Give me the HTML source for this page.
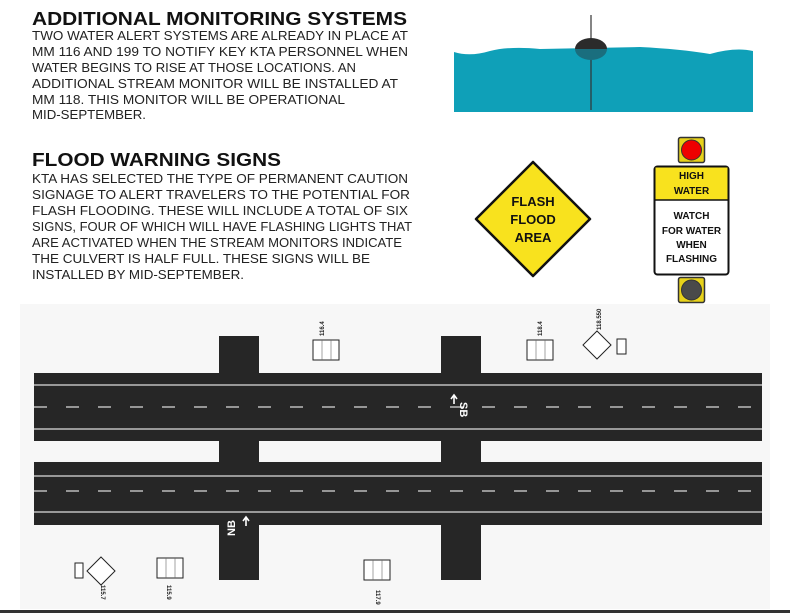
<!DOCTYPE html>
<html><head><meta charset="utf-8"><style>
html,body{margin:0;padding:0;background:#fff;width:790px;height:613px;overflow:hidden}
svg{display:block}
text{font-family:"Liberation Sans",Arial,sans-serif}
</style></head><body>
<svg width="790" height="613" viewBox="0 0 790 613" xmlns="http://www.w3.org/2000/svg">
<rect width="790" height="613" fill="#fff"/>
<g fill="#111">
<text x="32" y="25" font-size="18.5" font-weight="bold" textLength="375" lengthAdjust="spacingAndGlyphs">ADDITIONAL MONITORING SYSTEMS</text>
<g font-size="12.6" fill="#222">
<text x="32" y="40" textLength="376" lengthAdjust="spacingAndGlyphs">TWO WATER ALERT SYSTEMS ARE ALREADY IN PLACE AT</text>
<text x="32" y="56" textLength="376" lengthAdjust="spacingAndGlyphs">MM 116 AND 199 TO NOTIFY KEY KTA PERSONNEL WHEN</text>
<text x="32" y="72" textLength="324" lengthAdjust="spacingAndGlyphs">WATER BEGINS TO RISE AT THOSE LOCATIONS. AN</text>
<text x="32" y="88" textLength="366" lengthAdjust="spacingAndGlyphs">ADDITIONAL STREAM MONITOR WILL BE INSTALLED AT</text>
<text x="32" y="104" textLength="313" lengthAdjust="spacingAndGlyphs">MM 118. THIS MONITOR WILL BE OPERATIONAL</text>
<text x="32" y="119" textLength="114" lengthAdjust="spacingAndGlyphs">MID-SEPTEMBER.</text>
</g>
<text x="32" y="166" font-size="18.5" font-weight="bold" textLength="249" lengthAdjust="spacingAndGlyphs">FLOOD WARNING SIGNS</text>
<g font-size="12.6" fill="#222">
<text x="32" y="183" textLength="376" lengthAdjust="spacingAndGlyphs">KTA HAS SELECTED THE TYPE OF PERMANENT CAUTION</text>
<text x="32" y="199" textLength="378" lengthAdjust="spacingAndGlyphs">SIGNAGE TO ALERT TRAVELERS TO THE POTENTIAL FOR</text>
<text x="32" y="215" textLength="376" lengthAdjust="spacingAndGlyphs">FLASH FLOODING. THESE WILL INCLUDE A TOTAL OF SIX</text>
<text x="32" y="231" textLength="380" lengthAdjust="spacingAndGlyphs">SIGNS, FOUR OF WHICH WILL HAVE FLASHING LIGHTS THAT</text>
<text x="32" y="247" textLength="370" lengthAdjust="spacingAndGlyphs">ARE ACTIVATED WHEN THE STREAM MONITORS INDICATE</text>
<text x="32" y="263" textLength="338" lengthAdjust="spacingAndGlyphs">THE CULVERT IS HALF FULL. THESE SIGNS WILL BE</text>
<text x="32" y="279" textLength="212" lengthAdjust="spacingAndGlyphs">INSTALLED BY MID-SEPTEMBER.</text>
</g>
</g>
<!-- water -->
<path d="M454 52 Q470 57 490 51 Q510 46 540 49 L640 47 Q680 49 710 54 Q735 47 753 51 L753 112 L454 112 Z" fill="#0fa0b8"/>
<line x1="591" y1="15" x2="591" y2="110" stroke="#333" stroke-width="1.2"/>
<path d="M575 49 A16 11 0 0 1 607 49 Z" fill="#2b2b2b"/>
<path d="M575 49 A16 11 0 0 0 607 49 Z" fill="#1a6e7e"/>
<!-- diamond -->
<polygon points="533,162 590,219 533,276 476,219" fill="#f8e21e" stroke="#111" stroke-width="2.5" stroke-linejoin="round"/>
<g font-size="13" font-weight="bold" text-anchor="middle" fill="#111">
<text x="533" y="206">FLASH</text><text x="533" y="224">FLOOD</text><text x="533" y="242">AREA</text>
</g>
<!-- light sign -->
<rect x="678.5" y="137.5" width="26" height="25" rx="2" fill="#e8d21a" stroke="#333" stroke-width="1.5"/>
<circle cx="691.5" cy="150" r="10" fill="#e00" stroke="#333" stroke-width="1"/>
<rect x="654.5" y="166.5" width="74" height="108" rx="3" fill="#fff" stroke="#111" stroke-width="2"/>
<rect x="655.5" y="167.5" width="72" height="32" fill="#f8e21e"/>
<line x1="655" y1="200" x2="728" y2="200" stroke="#111" stroke-width="1.5"/>
<g font-size="10" font-weight="bold" text-anchor="middle" fill="#111">
<text x="691.5" y="179">HIGH</text><text x="691.5" y="194">WATER</text>
<text x="691.5" y="219">WATCH</text><text x="691.5" y="234">FOR WATER</text><text x="691.5" y="248">WHEN</text><text x="691.5" y="262">FLASHING</text>
</g>
<rect x="678.5" y="277.5" width="26" height="25" rx="2" fill="#e8d21a" stroke="#333" stroke-width="1.5"/>
<circle cx="691.5" cy="290" r="10" fill="#4a4a4a" stroke="#333" stroke-width="1"/>
<!-- road area bg -->
<rect x="20" y="304" width="750" height="305" fill="#f7f7f7"/>
<rect x="0" y="610" width="790" height="3" fill="#333"/>
<g fill="#262626">
<rect x="219" y="336" width="40" height="244"/>
<rect x="441" y="336" width="40" height="244"/>
<rect x="34" y="373" width="728" height="68"/>
<rect x="34" y="462" width="728" height="63"/>
</g>
<g stroke="#ddd" stroke-width="1.3">
<line x1="34" y1="385" x2="762" y2="385"/><line x1="34" y1="429" x2="762" y2="429"/>
<line x1="34" y1="476" x2="762" y2="476"/><line x1="34" y1="512" x2="762" y2="512"/>
</g>
<g stroke="#bbb" stroke-width="1.5" stroke-dasharray="13,19">
<line x1="34" y1="407" x2="762" y2="407"/><line x1="34" y1="491" x2="762" y2="491"/>
</g>
<g fill="#fff" font-size="11" font-weight="bold">
<text transform="translate(460,402) rotate(90)" x="0" y="0">SB</text>
<text transform="translate(235,536) rotate(-90)" x="0" y="0">NB</text>
</g>
<path d="M454 404 L454 396 M451 399 L454 395 L457 399" stroke="#fff" stroke-width="1.6" fill="none"/>
<path d="M246 526 L246 518 M243 521 L246 517 L249 521" stroke="#fff" stroke-width="1.6" fill="none"/>
<!-- small signs -->
<g fill="#fff" stroke="#222" stroke-width="1">
<rect x="313" y="340" width="26" height="20"/><rect x="527" y="340" width="26" height="20"/>
<polygon points="597,331 611,345 597,359 583,345"/><rect x="617" y="339" width="9" height="15"/>
<polygon points="101,557 115,571 101,585 87,571"/><rect x="75" y="563" width="8" height="15"/>
<rect x="157" y="558" width="26" height="20"/><rect x="364" y="560" width="26" height="20"/>
</g>
<g stroke="#666" stroke-width="0.6">
<line x1="322" y1="340" x2="322" y2="360"/><line x1="331" y1="340" x2="331" y2="360"/>
<line x1="536" y1="340" x2="536" y2="360"/><line x1="545" y1="340" x2="545" y2="360"/>
<line x1="166" y1="558" x2="166" y2="578"/><line x1="175" y1="558" x2="175" y2="578"/>
<line x1="373" y1="560" x2="373" y2="580"/><line x1="382" y1="560" x2="382" y2="580"/>
</g>
<g fill="#222" font-size="6" font-weight="bold">
<text transform="translate(324,336) rotate(-90)">116.4</text>
<text transform="translate(542,336) rotate(-90)">118.4</text>
<text transform="translate(601,330) rotate(-90)">118.550</text>
<text transform="translate(101,585) rotate(90)">115.7</text>
<text transform="translate(167,585) rotate(90)">115.9</text>
<text transform="translate(376,590) rotate(90)">117.9</text>
</g>
</svg>
</body></html>
